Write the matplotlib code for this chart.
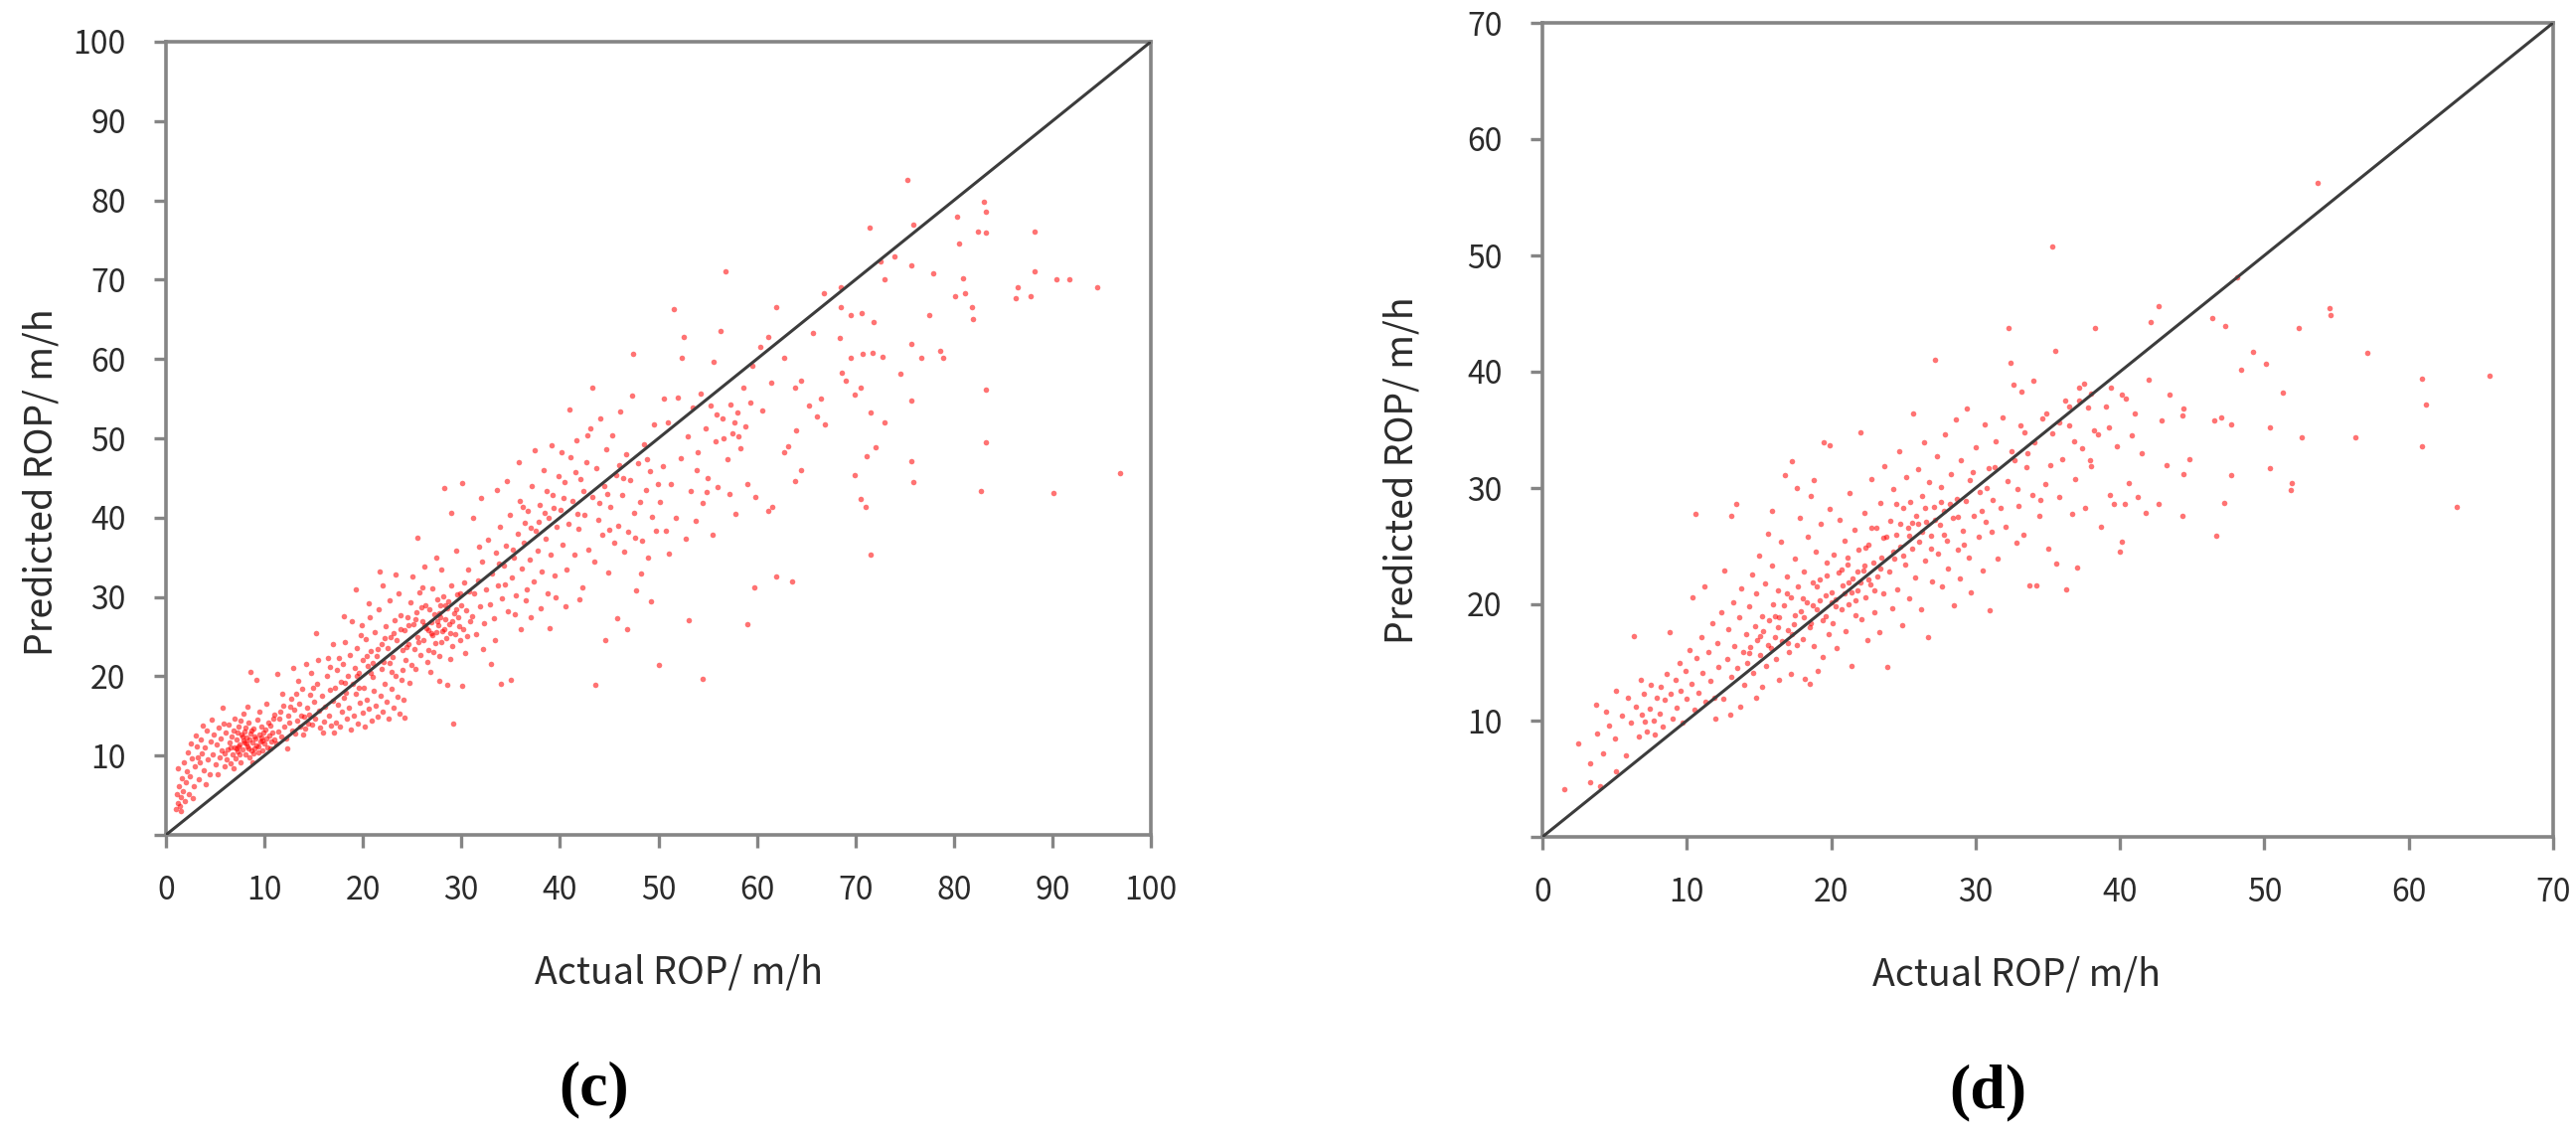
import matplotlib
matplotlib.use("Agg")
import matplotlib.pyplot as plt
import numpy as np

# ---- data (actual, predicted) ----
c_points = [
    # low tail
    (1.0,3.2),(1.2,4.0),(1.1,5.1),(1.4,3.6),(1.5,4.8),(1.3,6.2),(1.7,5.5),(1.6,7.1),(1.9,4.3),(2.0,6.6),
    (2.1,8.0),(1.8,9.2),(2.3,5.2),(2.4,7.4),(2.6,9.6),(2.2,10.4),(2.8,6.1),(2.9,8.7),(3.1,11.2),(3.0,12.5),
    (3.3,7.0),(3.4,9.1),(3.6,10.3),(3.5,12.0),(3.8,8.2),(3.9,11.0),(4.1,13.1),(4.2,9.5),(4.4,7.6),(4.5,11.8),
    (4.7,10.2),(4.8,12.6),(5.0,8.9),(5.1,11.4),(5.3,13.5),(5.4,9.8),(5.6,12.2),(5.7,10.7),(5.9,14.0),(6.0,8.7),
    (1.2,8.4),(2.5,11.5),(3.7,13.8),(1.5,3.0),(2.7,4.6),(4.0,6.4),(5.2,7.6),(6.1,12.9),(4.6,14.5),(3.2,9.8),
    # 6-11
    (6.2,9.5),(6.3,10.8),(6.5,11.6),(6.6,9.0),(6.7,12.4),(6.8,10.1),(6.9,13.2),(7.0,11.0),(7.1,9.7),(7.2,12.0),
    (7.3,10.5),(7.4,13.6),(7.5,11.4),(7.6,9.2),(7.7,12.7),(7.8,10.8),(7.9,11.9),(8.0,13.0),(8.1,10.2),(8.2,12.3),
    (8.3,11.1),(8.4,14.1),(8.5,9.8),(8.6,12.8),(8.7,10.6),(8.8,11.7),(8.9,13.4),(9.0,10.9),(9.1,12.1),(9.2,11.3),
    (9.3,14.5),(9.4,10.4),(9.5,12.6),(9.6,11.8),(9.7,13.7),(9.8,10.7),(9.9,12.9),(10.0,11.5),(10.1,13.3),(10.2,12.2),
    (10.3,11.0),(10.4,14.2),(10.5,12.5),(10.6,13.8),(10.7,11.8),(10.8,12.9),(10.9,14.7),(11.0,12.0),(6.4,13.9),(7.0,14.6),
    (7.9,15.3),(8.3,16.2),(8.6,20.5),(9.2,19.6),(5.8,16.0),(6.9,8.4),(7.6,14.4),(8.8,9.1),(9.5,15.6),(10.2,16.6),
    (8.0,11.6),(8.4,10.9),(7.4,11.2),(9.0,12.4),(9.8,11.9),(6.0,10.3),(7.3,12.9),(8.7,13.1),(10.6,10.9),(11.0,15.2),
    (7.2,10.9),(7.8,12.4),(8.2,11.5),(8.9,10.3),(9.4,11.2),(6.6,11.0),(7.5,10.2),(8.5,12.0),(9.7,12.3),(8.1,13.5),
    # 11-17
    (11.2,11.5),(11.4,13.0),(11.5,14.6),(11.7,12.4),(11.9,16.3),(12.0,13.7),(12.2,12.1),(12.4,15.0),(12.5,14.1),(12.7,17.2),
    (12.8,13.2),(13.0,15.8),(13.1,12.8),(13.3,14.4),(13.5,16.6),(13.6,13.6),(13.8,18.4),(14.0,14.9),(14.1,13.4),(14.3,16.0),
    (14.5,15.2),(14.6,17.7),(14.8,13.9),(15.0,16.8),(15.1,14.6),(15.3,19.1),(15.5,15.7),(15.6,13.5),(15.8,17.5),(16.0,14.3),
    (16.1,16.2),(16.3,20.1),(16.5,15.1),(16.6,18.3),(16.8,13.8),(17.0,16.9),(11.3,20.3),(12.9,21.0),(14.2,21.6),(15.2,25.4),
    (11.8,17.8),(13.4,19.4),(14.7,20.4),(16.4,22.3),(12.3,10.9),(13.9,12.6),(15.9,12.9),(11.6,15.5),(13.2,17.8),(14.9,18.6),
    (12.6,16.2),(14.4,14.0),(16.7,21.2),(15.4,22.0),(13.7,15.1),
    # 17-24 upper
    (17.2,18.5),(17.4,20.8),(17.6,22.3),(17.8,19.3),(18.0,21.5),(18.2,24.3),(18.3,17.9),(18.5,20.1),(18.7,22.7),(18.9,26.9),
    (19.0,19.0),(19.2,21.1),(19.4,23.6),(19.6,20.4),(19.8,25.2),(20.0,22.0),(20.1,18.6),(20.3,24.7),(20.5,21.3),(20.7,27.5),
    (20.8,23.2),(21.0,19.9),(21.2,25.6),(21.4,22.6),(21.6,28.4),(21.7,33.2),(21.9,24.1),(22.1,21.8),(22.3,26.3),(22.5,23.5),
    (22.7,29.6),(22.8,25.0),(23.0,22.4),(23.2,27.1),(23.4,24.6),(23.6,30.5),(23.8,26.0),(24.0,23.3),(19.3,31.0),(18.1,27.6),
    (20.6,29.2),(22.0,31.4),(23.3,32.8),(17.0,24.0),(19.9,26.4),
    (21.5,23.4),(22.2,24.8),(23.1,25.5),(20.4,22.6),(19.4,20.0),(23.8,27.7),(24.6,26.5),(22.9,20.5),(21.0,21.7),(25.3,27.2),
    # 17-24 lower cluster
    (17.3,14.2),(17.5,16.4),(17.7,13.6),(17.9,15.5),(18.1,17.3),(18.4,14.7),(18.6,16.0),(18.8,13.3),(19.1,15.1),(19.3,17.8),
    (19.5,14.0),(19.7,16.7),(20.0,15.4),(20.2,13.7),(20.4,17.1),(20.6,15.9),(20.9,14.4),(21.1,18.2),(21.3,16.3),(21.5,14.9),
    (21.8,17.5),(22.0,15.6),(22.2,19.1),(22.4,16.8),(22.6,14.6),(22.9,18.4),(23.1,16.1),(23.3,20.1),(23.5,17.4),(23.7,15.3),
    (23.9,19.6),(24.1,17.0),(24.2,14.8),(18.2,19.2),(19.6,18.6),(20.8,20.4),(21.9,20.9),(22.7,21.7),(24.0,20.8),(17.1,12.9),
    # 24-31
    (24.2,25.8),(24.3,22.1),(24.5,27.4),(24.6,24.0),(24.8,29.3),(24.9,21.4),(25.1,26.6),(25.2,23.4),(25.4,28.1),(25.5,25.0),
    (25.7,30.6),(25.8,22.7),(26.0,27.0),(26.1,24.6),(26.3,29.0),(26.4,26.1),(26.6,23.3),(26.7,28.5),(26.9,25.5),(27.0,31.1),
    (27.2,27.8),(27.3,24.2),(27.5,29.7),(27.6,26.4),(27.8,22.5),(27.9,28.9),(28.1,25.7),(28.2,30.1),(28.4,27.2),(28.5,24.8),
    (28.7,29.4),(28.8,26.6),(29.0,31.5),(29.1,23.8),(29.3,28.0),(29.4,25.3),(29.6,30.3),(29.7,27.5),(29.9,24.5),(30.0,29.0),
    (30.2,26.0),(30.3,31.8),(30.5,28.3),(30.6,25.1),(30.8,30.7),(30.9,27.0),(25.0,32.6),(26.2,33.8),(25.5,37.5),(27.4,34.9),
    (28.3,43.7),(30.1,44.3),(29.0,40.6),(28.0,33.5),(29.5,35.8),(26.8,20.6),(27.7,19.4),(28.6,18.9),(29.2,14.0),(30.1,18.8),
    (24.7,19.2),(25.3,20.9),(26.5,21.8),(27.1,23.0),(28.9,22.2),(30.4,22.9),(25.9,28.7),(27.9,27.4),(28.6,28.6),(29.8,26.3),
    (26.9,26.8),(28.3,26.0),(27.4,25.6),(29.1,27.0),(24.4,23.7),(25.6,24.3),(30.7,33.4),(26.0,31.2),
    (26.2,26.5),(27.0,25.2),(27.8,27.9),(28.4,29.0),(28.9,25.5),(29.5,28.5),(27.5,27.0),(26.6,25.8),(28.0,24.3),(29.9,30.4),
    # 31-40
    (31.1,27.6),(31.3,30.4),(31.5,25.3),(31.7,32.1),(31.9,28.8),(32.1,34.5),(32.3,26.7),(32.5,30.9),(32.7,37.2),(32.9,29.1),
    (33.1,33.0),(33.3,27.3),(33.5,35.6),(33.7,31.4),(33.9,38.8),(34.1,29.8),(34.3,33.9),(34.5,36.5),(34.7,28.2),(34.9,40.3),
    (35.1,32.5),(35.3,35.0),(35.5,30.2),(35.7,38.0),(35.9,42.1),(36.1,33.6),(36.3,36.9),(36.5,29.6),(36.7,40.8),(36.9,34.7),
    (37.1,44.0),(37.3,31.9),(37.5,38.4),(37.7,35.9),(37.9,41.6),(38.1,33.2),(38.3,46.0),(38.5,37.3),(38.7,30.5),(38.9,40.0),
    (39.1,35.4),(39.3,42.9),(39.5,32.7),(39.7,38.9),(39.9,45.2),(32.0,42.5),(31.2,40.0),(33.6,43.5),(34.0,19.0),(35.0,19.6),
    (33.0,21.5),(32.2,23.4),(36.0,25.9),(37.0,27.4),(38.0,28.6),(39.0,26.1),(37.4,48.5),(39.2,49.1),(35.8,47.0),(34.6,44.6),
    (31.8,36.3),(33.4,24.5),(36.6,31.0),(38.6,43.3),(39.6,30.0),(35.4,27.8),(34.4,31.6),(37.8,39.5),(36.2,41.4),(33.8,34.2),
    (37.0,38.7),(38.4,40.6),(39.4,41.2),(40.4,42.5),(41.8,40.5),(36.4,39.4),(35.2,36.0),(42.4,43.4),(44.8,43.0),(46.4,45.0),
    # 40-50
    (40.1,41.0),(40.3,36.6),(40.5,44.5),(40.7,33.5),(40.9,39.2),(41.1,47.6),(41.3,42.1),(41.5,35.3),(41.7,49.8),(41.9,38.6),
    (42.1,44.9),(42.3,31.2),(42.5,40.4),(42.7,47.0),(42.9,36.0),(43.1,51.3),(43.3,42.6),(43.5,34.4),(43.7,46.2),(43.9,39.7),
    (44.1,52.5),(44.3,37.8),(44.5,44.0),(44.7,48.6),(44.9,33.1),(45.1,41.3),(45.3,50.4),(45.5,36.9),(45.7,45.4),(45.9,39.0),
    (46.1,53.4),(46.3,42.8),(46.5,35.7),(46.7,48.0),(46.9,38.2),(47.1,44.7),(47.3,55.4),(47.5,40.6),(47.7,30.8),(47.9,46.9),
    (48.1,42.0),(48.3,37.1),(48.5,49.3),(48.7,43.5),(48.9,34.9),(49.1,45.9),(49.3,40.1),(49.5,51.7),(49.7,38.4),(49.9,44.2),
    (41.0,53.6),(43.3,56.4),(47.4,60.6),(43.6,18.9),(44.6,24.6),(45.8,27.3),(46.8,26.0),(48.2,33.0),(49.2,29.5),(50.0,21.4),
    (40.6,28.8),(42.0,29.7),(41.6,45.8),(44.0,41.8),(46.0,46.6),(48.8,47.4),(45.0,38.5),(47.6,37.5),(42.8,50.4),(40.2,48.2),
    # 50-60
    (50.2,42.0),(50.5,46.5),(50.8,38.4),(51.0,52.0),(51.3,44.2),(51.6,66.3),(51.8,40.0),(52.0,55.1),(52.3,47.5),(52.6,62.8),
    (52.8,37.3),(53.0,50.3),(53.3,43.3),(53.5,53.9),(53.8,39.6),(54.0,48.2),(54.3,55.6),(54.5,41.8),(54.8,51.2),(55.0,45.0),
    (55.3,54.1),(55.6,59.6),(55.8,49.6),(56.0,43.8),(56.3,63.5),(56.5,52.5),(56.8,71.1),(57.0,47.4),(57.3,54.3),(57.5,50.6),
    (57.8,40.5),(58.0,53.2),(58.3,48.8),(58.6,56.4),(58.8,51.5),(59.0,44.2),(59.3,54.5),(59.5,59.2),(59.8,42.6),(52.4,60.1),
    (53.1,27.1),(54.5,19.7),(59.0,26.6),(59.7,31.2),(51.1,35.5),(55.5,37.8),(57.2,43.0),(50.6,55.0),(53.9,46.0),(56.6,50.0),
    (58.1,50.2),(55.9,53.0),(57.7,52.0),(54.9,43.2),
    # above 60
    (75.3,82.6),(71.4,76.6),(75.9,76.9),(83.0,79.8),(83.2,78.6),(80.3,77.9),(88.2,76.1),(80.5,74.5),(82.4,76.1),(83.2,76.0),
    (72.6,72.3),(74.0,72.9),(75.7,71.8),(77.9,70.8),(80.9,70.2),(88.2,71.1),(90.4,70.0),(91.7,70.0),(94.6,69.0),(86.5,69.0),
    (87.8,67.9),(86.3,67.7),(80.1,67.9),(81.1,68.3),(81.8,66.5),(81.9,65.1),(77.5,65.6),(73.0,70.0),(68.5,69.1),(66.8,68.3),
    (68.5,66.5),(69.5,65.6),(70.6,65.8),(71.8,64.7),(68.4,62.7),(75.7,61.9),(69.5,60.1),(70.7,60.6),(71.7,60.8),(72.8,60.3),
    (74.6,58.1),(76.7,60.1),(78.6,61.0),(78.9,60.1),(68.6,58.3),(69.0,57.3),(70.5,56.4),(69.9,55.5),(83.2,56.2),(75.7,54.8),
    (71.5,53.2),(73.0,52.0),(72.0,48.9),(71.1,47.7),(75.7,47.1),(75.9,44.5),(83.2,49.5),(82.7,43.4),(90.1,43.1),(96.9,45.6),
    (71.0,41.3),(70.5,42.4),(71.5,35.3),(69.9,45.4),(66.5,55.0),(65.3,54.1),(66.1,52.8),(66.9,51.8),(64.5,57.3),(63.9,56.4),
    (62.8,60.1),(62.0,66.5),(61.1,62.8),(60.3,61.5),(65.7,63.3),(63.2,49.0),(62.8,48.3),(64.5,46.0),(63.9,44.6),(61.6,41.3),
    (61.1,40.8),(62.0,32.6),(63.6,31.9),(60.5,53.5),(61.5,57.0),(64.0,51.0),
]

d_points = [
    # low tail
    (1.5,4.1),(2.5,8.0),(3.3,4.7),(3.3,6.3),(3.7,11.4),(4.0,4.4),(4.2,7.2),(5.0,8.5),(5.1,12.6),(5.1,5.6),
    (4.6,9.6),(5.5,10.4),(5.8,7.0),(6.1,9.8),(6.3,17.3),(6.5,11.2),(6.7,8.6),(6.9,10.5),(7.0,12.3),(7.2,9.1),
    (7.4,11.0),(7.5,13.1),(7.7,10.0),(7.8,8.8),(7.9,12.0),(4.4,10.8),(3.8,8.9),(5.9,12.0),(6.8,13.5),(7.1,9.9),
    # 8-14
    (8.1,10.6),(8.2,12.9),(8.3,9.5),(8.5,11.8),(8.6,14.0),(8.8,17.6),(8.9,12.3),(9.0,10.2),(9.2,13.5),(9.3,11.1),
    (9.5,15.0),(9.6,12.6),(9.7,9.8),(9.9,14.3),(10.0,11.9),(10.2,16.1),(10.3,13.2),(10.4,20.6),(10.6,27.8),(10.5,10.9),
    (10.7,15.4),(10.8,12.4),(11.0,17.2),(11.1,14.1),(11.2,21.5),(11.3,11.6),(11.5,15.9),(11.6,13.4),(11.8,18.4),(11.9,12.0),
    (12.1,16.7),(12.2,14.6),(12.4,19.3),(12.5,11.9),(12.6,22.9),(12.8,15.3),(12.9,17.9),(13.0,10.5),(13.1,13.8),(13.2,20.2),
    (13.4,28.6),(13.1,27.6),(13.3,16.4),(13.5,14.5),(13.6,18.9),(13.7,11.2),(13.8,21.4),(13.9,15.9),(14.0,13.1),(12.0,10.2),
    # 14-20
    (14.1,17.4),(14.2,15.0),(14.3,19.8),(14.4,16.3),(14.5,22.6),(14.6,14.1),(14.7,18.1),(14.8,20.9),(14.9,16.9),(15.0,24.2),
    (15.1,15.6),(15.2,19.0),(15.3,17.7),(15.4,21.8),(15.5,14.7),(15.6,26.1),(15.7,18.6),(15.8,16.2),(15.9,23.3),(16.0,20.0),
    (16.1,17.2),(16.2,15.3),(16.3,21.2),(16.4,18.9),(16.5,25.4),(16.6,16.8),(16.7,19.9),(16.8,31.1),(16.9,22.4),(17.0,17.8),
    (17.1,15.9),(17.2,20.6),(17.3,32.3),(17.4,18.3),(17.5,23.9),(17.6,16.5),(17.7,21.5),(17.8,27.4),(17.9,19.4),(18.0,17.0),
    (18.1,22.8),(18.2,13.6),(18.3,20.2),(18.4,25.8),(18.5,18.0),(18.6,29.3),(18.7,21.9),(18.8,16.4),(18.9,24.5),(19.0,19.6),
    (19.1,14.3),(19.2,22.1),(19.3,26.9),(19.4,18.6),(19.5,33.9),(19.6,20.8),(19.7,23.6),(19.8,17.4),(19.9,28.2),(20.0,21.0),
    (15.2,12.9),(16.4,13.5),(17.2,14.0),(18.5,13.2),(19.4,15.5),(14.8,12.0),(15.9,28.0),(17.6,30.0),(18.8,30.7),(19.9,33.7),
    (16.3,18.0),(17.5,19.1),(18.7,19.9),(19.2,20.3),(18.1,18.9),(17.0,16.7),(19.6,19.0),(15.6,16.5),
    (16.1,19.0),(15.1,17.3),(17.3,17.4),(14.3,15.8),(16.9,20.9),
    # 20-25
    (20.1,18.4),(20.2,24.3),(20.3,20.4),(20.4,16.2),(20.5,22.7),(20.6,27.3),(20.7,19.6),(20.8,21.6),(20.9,25.5),(21.0,17.7),
    (21.1,23.4),(21.2,20.0),(21.3,29.6),(21.4,14.7),(21.5,22.2),(21.6,26.4),(21.7,19.1),(21.8,21.2),(21.9,24.7),(22.0,34.8),
    (22.1,18.7),(22.2,22.9),(22.3,27.9),(22.4,20.6),(22.5,16.9),(22.6,25.1),(22.7,21.7),(22.8,30.8),(22.9,23.6),(23.0,19.3),
    (23.1,26.6),(23.2,22.4),(23.3,17.6),(23.4,28.7),(23.5,24.0),(23.6,20.9),(23.7,31.9),(23.8,25.8),(23.9,14.6),(24.0,22.8),
    (24.1,27.2),(24.2,19.7),(24.3,29.9),(24.4,23.9),(24.5,26.0),(24.6,21.3),(24.7,33.2),(24.8,25.0),(24.9,18.2),(25.0,28.3),
    (20.9,20.9),(21.4,21.0),(22.0,21.9),(21.7,20.3),(22.6,22.1),(20.3,19.8),(23.4,23.1),(21.1,24.0),(22.4,24.9),(24.3,24.5),
    (18.0,20.5),(19.0,21.5),(20.0,20.2),(21.2,21.9),(22.3,23.3),(19.7,22.5),(20.7,23.0),(21.8,22.8),(23.0,21.2),(18.6,18.4),
    # 25-32
    (25.1,23.4),(25.2,30.9),(25.3,26.6),(25.4,20.5),(25.5,28.8),(25.6,24.8),(25.7,36.4),(25.8,22.3),(25.9,27.6),(26.0,31.6),
    (26.1,25.4),(26.2,19.6),(26.3,29.3),(26.4,33.9),(26.5,23.8),(26.6,27.1),(26.7,17.2),(26.8,30.5),(26.9,25.9),(27.0,22.0),
    (27.1,28.4),(27.2,41.0),(27.3,32.7),(27.4,24.4),(27.5,26.8),(27.6,30.1),(27.7,21.5),(27.8,28.0),(27.9,34.6),(28.0,25.5),
    (28.1,23.1),(28.3,31.2),(28.4,27.4),(28.5,19.9),(28.6,35.9),(28.7,29.1),(28.8,24.7),(28.9,22.2),(29.0,32.4),(29.1,26.3),
    (29.3,28.9),(29.4,36.8),(29.5,24.0),(29.6,30.7),(29.7,21.0),(29.9,27.6),(30.0,33.5),(30.2,25.8),(30.3,29.7),(30.5,22.9),
    (30.6,35.5),(30.7,27.1),(30.9,31.7),(31.0,19.5),(31.1,26.2),(31.2,29.0),(31.4,34.0),(31.5,23.9),(31.7,28.3),(31.9,36.1),
    (25.6,27.0),(26.3,26.2),(27.2,27.3),(28.2,28.6),(27.8,26.0),(26.9,24.8),(29.2,25.1),(30.4,28.0),
    (24.8,26.9),(25.4,25.9),(26.5,28.3),(27.6,28.8),(24.5,28.6),(26.0,26.9),(28.8,27.5),(25.0,24.2),(23.6,25.7),(22.8,26.6),
    (30.8,30.0),(31.3,31.8),(32.7,32.4),(29.8,31.4),(33.4,34.8),
    # 32-40
    (32.1,26.7),(32.3,43.8),(32.4,40.8),(32.6,38.9),(32.2,30.6),(32.5,33.2),(32.8,25.3),(33.0,28.5),(33.1,35.4),(33.3,26.0),
    (33.5,31.8),(33.7,21.6),(33.9,29.4),(34.1,33.9),(34.2,21.6),(34.4,27.6),(34.6,36.0),(34.8,30.3),(35.0,24.8),(35.3,34.7),
    (35.6,23.5),(35.8,29.2),(36.0,32.5),(36.3,21.3),(36.5,35.4),(36.7,27.8),(36.9,30.8),(37.0,23.2),(37.2,38.6),(37.4,33.4),
    (37.6,28.3),(37.8,36.9),(38.0,31.9),(38.3,43.8),(38.5,34.6),(38.7,26.7),(39.0,37.0),(39.3,29.4),(39.6,28.6),(39.8,33.6),
    (35.3,50.8),(35.5,41.8),(34.0,39.2),(33.2,38.3),(36.2,37.5),(37.5,39.0),(38.2,35.0),(36.8,34.0),(35.2,32.0),(34.5,29.0),
    (32.9,29.9),(33.6,33.0),(36.5,37.0),(37.2,37.5),(38.0,38.1),(39.4,38.6),(35.8,35.6),(34.9,36.4),(37.9,32.4),(39.2,35.2),
    # above 40
    (53.7,56.2),(42.7,45.6),(54.5,45.5),(54.6,44.9),(46.4,44.6),(47.3,43.9),(52.4,43.8),(42.1,44.3),(48.1,48.1),(57.1,41.6),
    (49.2,41.7),(50.1,40.7),(48.4,40.2),(65.6,39.7),(60.9,39.4),(61.2,37.2),(60.9,33.6),(56.3,34.4),(52.6,34.4),(63.3,28.4),
    (51.9,30.4),(51.8,29.8),(50.4,31.7),(51.3,38.2),(50.4,35.2),(47.7,35.5),(46.5,35.8),(47.0,36.1),(47.7,31.1),(47.2,28.7),
    (46.7,25.9),(44.3,27.6),(44.4,36.8),(44.3,36.2),(43.4,38.0),(42.9,35.8),(44.8,32.5),(44.4,31.2),(43.2,32.0),(42.7,28.6),
    (41.8,27.9),(41.2,29.2),(40.0,24.5),(40.1,25.4),(40.3,28.6),(40.1,38.0),(40.4,37.7),(41.0,36.4),(40.6,30.4),(41.5,33.0),
    (42.0,39.3),(40.8,34.5),
]

c_max = 100
d_max = 70
c_ticks = list(range(0, 101, 10))
d_ticks = list(range(0, 71, 10))
x_label = "Actual ROP/ m/h"
y_label = "Predicted ROP/ m/h"
panel_tags = ["(c)", "(d)"]

W, H = 2592, 1152
fig = plt.figure(figsize=(W / 100, H / 100), dpi=100)

spine_gray = "#858585"
text_col = "#2b2b2b"
label_font = ["Noto Sans CJK SC", "DejaVu Sans"]


def make_panel(rect, points, vmax, ticks):
    ax = fig.add_axes(rect)
    xs = [p[0] for p in points]
    ys = [p[1] for p in points]
    ax.scatter(xs, ys, s=16, c="#ff0000", alpha=0.55, linewidths=0, zorder=2)
    ax.plot([0, vmax], [0, vmax], color="#3c3c3c", lw=2.2, zorder=3)
    ax.set_xlim(0, vmax)
    ax.set_ylim(0, vmax)
    ax.set_xticks(ticks)
    ax.set_yticks(ticks)
    ax.set_xticklabels([str(t) for t in ticks])
    ax.set_yticklabels([""] + [str(t) for t in ticks[1:]])
    for sp in ax.spines.values():
        sp.set_color(spine_gray)
        sp.set_linewidth(2.6)
    ax.tick_params(direction="out", length=9, width=2.4, color=spine_gray,
                   labelsize=23, labelcolor=text_col, pad=20)
    for lab in ax.get_xticklabels() + ax.get_yticklabels():
        lab.set_family(label_font)
        lab.set_fontweight("light")
    return ax


# left panel axes: x 167-1158 px, y 42-840 px
make_panel([167 / W, 1 - 840 / H, (1158 - 167) / W, (840 - 42) / H], c_points, c_max, c_ticks)
# right panel axes: x 1552-2569 px, y 23-842 px
make_panel([1552 / W, 1 - 842 / H, (2569 - 1552) / W, (842 - 23) / H], d_points, d_max, d_ticks)

for cx, cy in [(683, 979), (2029, 981)]:
    fig.text(cx / W, 1 - cy / H, x_label, ha="center", va="center", fontsize=27,
             color=text_col, family=label_font, fontweight="light")
for cx, cy in [(42, 485), (1411, 473)]:
    fig.text(cx / W, 1 - cy / H, y_label, ha="center", va="center", fontsize=27,
             color=text_col, family=label_font, fontweight="light", rotation=90)
for (cx, cy), tag in zip([(598, 1096), (2000, 1099)], panel_tags):
    fig.text(cx / W, 1 - cy / H, tag, ha="center", va="center", fontsize=46,
             color="black", family=["Liberation Serif", "DejaVu Serif"], fontweight="bold")

fig.savefig("out.png", dpi=100)
